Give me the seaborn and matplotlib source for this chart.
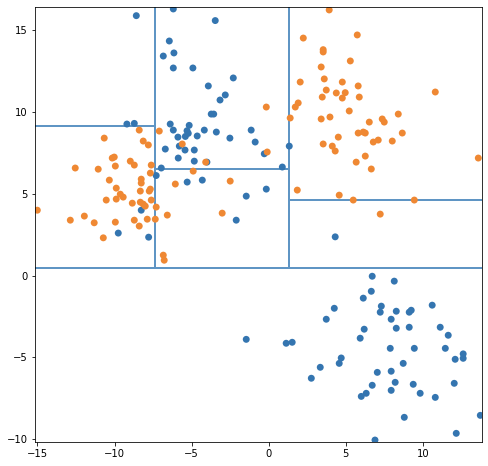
import numpy as np
import pandas as pd
import seaborn as sns
import matplotlib.pyplot as plt

# class 0 (blue) points
blue_x = [-8.59, -6.19, -3.47, -6.45, -6.84, -6.15, -6.19, -4.92, -2.30, -3.92,
          -2.82, -3.16, -3.73, -3.57, -9.20, -8.72, -6.39, -6.19, -5.16, -5.30,
          -5.22, -5.41, -5.89, -4.64, -4.18, -3.40, -2.52, -1.14, -5.80, -5.43,
          -6.71, -4.83, -5.87, -4.83, -4.01, -6.97, -7.30, -5.29, -4.31, -1.46,
          -2.11, -8.27, -9.76, -7.79, -1.46, -0.88, -0.29, 1.33, 0.88, -0.16,
          4.31, 6.71, 8.14, 6.65, 6.13, 4.25, 3.73, 7.30, 7.23, 8.27,
          9.11, 9.24, 10.60, 7.94, 6.19, 5.93, 8.27, 9.11, 11.12, 11.64,
          11.45, 7.88, 9.44, 1.13, 1.52, 4.70, 4.57, 3.34, 2.76, 12.61,
          12.61, 12.09, 8.72, 7.04, 7.94, 8.20, 9.37, 12.03, 6.71, 7.94,
          9.82, 10.80, 6.32, 6.00, 8.79, 13.72, 12.16, 6.89]
blue_y = [15.90, 16.31, 15.60, 14.35, 13.43, 13.62, 12.70, 12.70, 12.09, 11.60,
          11.05, 10.74, 9.88, 9.88, 9.27, 9.31, 9.27, 8.90, 9.19, 8.86,
          8.70, 8.51, 8.47, 8.54, 8.90, 8.78, 8.41, 8.90, 7.92, 7.68,
          7.74, 7.68, 7.19, 7.00, 6.94, 6.58, 6.12, 5.72, 5.84, 4.86,
          3.39, 4.00, 2.60, 2.35, -3.90, 8.17, 7.45, 7.92, 6.64, 5.29,
          2.37, -0.04, -0.34, -0.96, -1.38, -2.00, -2.67, -1.87, -2.24, -2.18,
          -2.24, -2.12, -1.81, -2.67, -3.28, -3.83, -3.22, -3.16, -3.16, -3.65,
          -4.45, -4.45, -4.45, -4.14, -4.08, -5.04, -5.37, -5.61, -6.28, -4.79,
          -5.06, -5.12, -5.37, -5.92, -5.85, -6.53, -6.65, -6.59, -6.71, -7.02,
          -7.20, -7.45, -7.20, -7.39, -8.67, -8.55, -9.65, -10.06]

# class 1 (orange) points
orange_x = [-15.01, -12.87, -11.96, -11.32, -10.73, -12.55, -11.06, -10.67, -10.34, -10.54,
            -10.15, -10.02, -9.95, -9.89, -9.89, -9.63, -9.44, -9.95, -8.98, -8.72,
            -8.40, -8.14, -7.81, -8.27, -8.27, -8.33, -7.75, -7.68, -8.85, -8.33,
            -8.14, -8.01, -7.62, -8.72, -8.40, -7.88, -7.36, -7.30, -6.58, -7.62,
            -7.68, -7.10, -5.61, -6.06, -4.09, -4.90, -2.50, -3.02, -6.84, -6.78,
            3.92, 5.74, 2.24, 3.53, 3.53, 5.29, 3.40, 2.04, 3.60, 4.77,
            5.80, 3.73, 4.38, 4.96, 4.77, 3.47, 5.87, 10.80, 1.91, 1.72,
            -0.16, 1.39, 3.40, 3.97, 5.22, 6.52, 7.36, 7.49, 8.40, 8.66,
            8.01, 5.80, 6.13, 6.26, 6.78, 7.10, 4.51, 3.53, 4.12, 4.31,
            6.26, 5.67, 6.65, -0.10, 13.59, 1.85, 4.57, 5.48, 9.44, 7.23]
orange_y = [4.00, 3.39, 3.64, 3.23, 2.31, 6.58, 6.51, 8.41, 5.84, 4.62,
            7.19, 7.25, 6.70, 5.35, 4.68, 4.98, 4.80, 3.27, 7.00, 6.76,
            8.90, 8.23, 7.99, 5.90, 5.66, 5.17, 5.17, 5.29, 4.43, 4.49,
            4.37, 4.25, 4.62, 3.39, 3.03, 3.45, 3.45, 4.19, 3.70, 6.76,
            6.27, 8.84, 8.05, 5.60, 6.94, 6.39, 5.78, 3.82, 1.25, 0.94,
            16.25, 14.72, 14.53, 13.82, 13.68, 13.13, 12.76, 11.84, 12.03, 11.84,
            11.60, 11.35, 11.17, 11.19, 10.86, 10.92, 10.92, 11.23, 10.56, 10.31,
            10.31, 9.64, 9.58, 9.70, 10.07, 9.39, 9.58, 9.39, 9.88, 8.72,
            8.23, 8.72, 8.78, 8.72, 8.17, 8.29, 8.47, 8.05, 7.92, 7.62,
            7.31, 6.94, 6.52, 7.56, 7.19, 5.23, 4.92, 4.62, 4.62, 3.76]

# decision tree split thresholds
root_y = 0.48
left_x = -7.37
right_x = 1.30
leaf_left_y = 9.12
leaf_mid_y = 6.55
leaf_right_y = 4.64

x_min, x_max = -15.16, 13.83
y_min, y_max = -10.18, 16.43

df = pd.DataFrame({
    "x": blue_x + orange_x,
    "y": blue_y + orange_y,
    "label": ["0"] * len(blue_x) + ["1"] * len(orange_x),
})

fig = plt.figure(figsize=(488 / 72, 466 / 72), dpi=72)
ax = fig.add_axes([35 / 488, 24 / 466, 447 / 488, 435 / 466])

sns.scatterplot(data=df, x="x", y="y", hue="label",
                palette={"0": "#3475b0", "1": "#ef8833"},
                s=48, linewidth=0, legend=False, ax=ax, zorder=2)

# split lines
line_kw = dict(color="#5f95c4", lw=2, zorder=1)
ax.plot([x_min, x_max], [root_y, root_y], **line_kw)
ax.plot([left_x, left_x], [root_y, y_max], **line_kw)
ax.plot([right_x, right_x], [root_y, y_max], **line_kw)
ax.plot([x_min, left_x], [leaf_left_y, leaf_left_y], **line_kw)
ax.plot([left_x, right_x], [leaf_mid_y, leaf_mid_y], **line_kw)
ax.plot([right_x, x_max], [leaf_right_y, leaf_right_y], **line_kw)

ax.set_xlim(x_min, x_max)
ax.set_ylim(y_min, y_max)
ax.set_xlabel("")
ax.set_ylabel("")

fig.savefig("out.png", dpi=72)
